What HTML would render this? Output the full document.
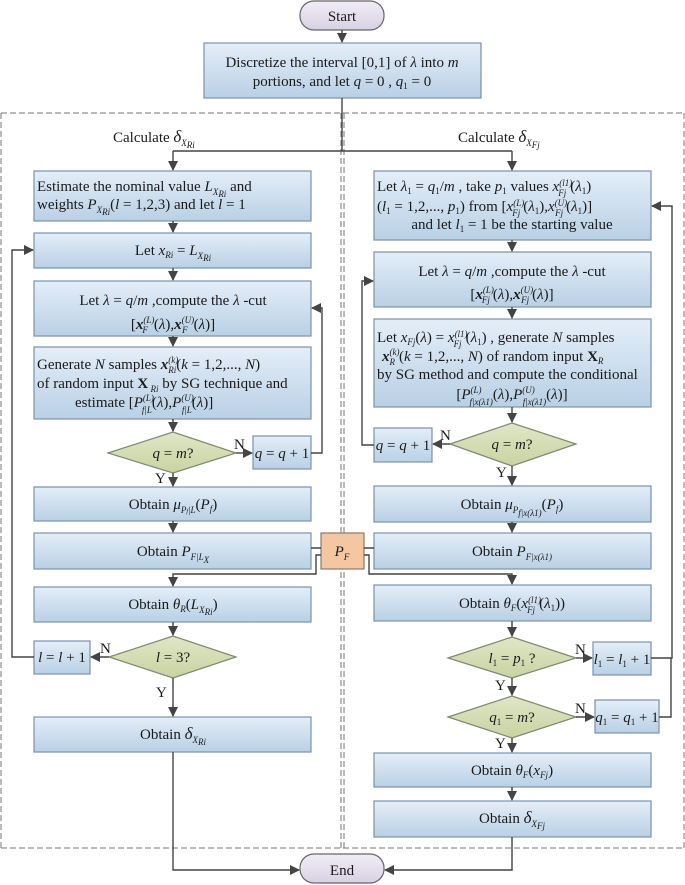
<!DOCTYPE html>
<html><head><meta charset="utf-8"><style>
html,body{margin:0;padding:0;background:#fff;}
svg{display:block;font-family:"Liberation Serif",serif;}
text{font-size:15px;fill:#1a1a1a;}
.m{font-style:italic;}
.s{font-size:9px;}
</style></head><body>
<svg width="685" height="885" viewBox="0 0 685 885" xmlns="http://www.w3.org/2000/svg">
<defs>
<linearGradient id="bx" x1="0" y1="0" x2="0" y2="1"><stop offset="0" stop-color="#e4eef8"/><stop offset="1" stop-color="#b9d0e5"/></linearGradient>
<linearGradient id="dm" x1="0" y1="0" x2="0" y2="1"><stop offset="0" stop-color="#e0e6c6"/><stop offset="1" stop-color="#c9d3a2"/></linearGradient>
<linearGradient id="te" x1="0" y1="0" x2="0" y2="1"><stop offset="0" stop-color="#f1eef6"/><stop offset="1" stop-color="#d8d0e4"/></linearGradient>
<marker id="a" markerWidth="10" markerHeight="10" refX="9" refY="5" orient="auto" markerUnits="userSpaceOnUse"><path d="M0,0 L10,5 L0,10 z" fill="#444"/></marker>
</defs>
<g fill="none" stroke="#777" stroke-dasharray="6,3" stroke-width="1">
<path d="M1,113 H684 M1,113 V848 M684,113 V848 M1,848 H684 M341,113 V848 M344,113 V848"/>
</g>
<g stroke="#7b93ab" stroke-width="1.2" fill="url(#bx)">
<rect x="204" y="43" width="277" height="55"/>
<rect x="34" y="171" width="277" height="50"/>
<rect x="34" y="233" width="277" height="35"/>
<rect x="34" y="281" width="277" height="55"/>
<rect x="34" y="347" width="277" height="72"/>
<rect x="253" y="436" width="58" height="33"/>
<rect x="34" y="487" width="277" height="34"/>
<rect x="34" y="533" width="277" height="36"/>
<rect x="34" y="587" width="277" height="35"/>
<rect x="34" y="641" width="56" height="33"/>
<rect x="34" y="717" width="277" height="35"/>
<rect x="374" y="171" width="277" height="69"/>
<rect x="374" y="252" width="277" height="55"/>
<rect x="374" y="319" width="277" height="88"/>
<rect x="374" y="428" width="58" height="34"/>
<rect x="374" y="486" width="277" height="36"/>
<rect x="374" y="533" width="277" height="36"/>
<rect x="374" y="585" width="277" height="36"/>
<rect x="593" y="642" width="58" height="33"/>
<rect x="595" y="700" width="64" height="33"/>
<rect x="374" y="753" width="277" height="34"/>
<rect x="374" y="801" width="277" height="36"/>
</g>
<rect x="321" y="533" width="43" height="36" fill="#f4c7a2" stroke="#8a7a6a" stroke-width="1.2"/>
<g stroke="#7d8a70" stroke-width="1.2" fill="url(#dm)">
<polygon points="108,453 173,432 236,453 173,473"/>
<polygon points="450,444 512,423 576,444 512,466"/>
<polygon points="109,657 173,636 236,657 173,678"/>
<polygon points="448,658 512,637 576,658 512,678"/>
<polygon points="448,717 512,696 576,717 512,738"/>
</g>
<g stroke="#666" stroke-width="1.2" fill="url(#te)">
<rect x="300" y="1" width="84" height="29" rx="14"/>
<rect x="300" y="854" width="84" height="29" rx="14"/>
</g>
<g fill="none" stroke="#444" stroke-width="1.4">
<path d="M342,30 V42" marker-end="url(#a)"/>
<path d="M342,98 V151 M173,151 H512"/>
<path d="M173,151 V170" marker-end="url(#a)"/>
<path d="M512,151 V170" marker-end="url(#a)"/>
<path d="M173,221 V232" marker-end="url(#a)"/>
<path d="M173,268 V280" marker-end="url(#a)"/>
<path d="M173,336 V346" marker-end="url(#a)"/>
<path d="M173,419 V431" marker-end="url(#a)"/>
<path d="M236,453 H252" marker-end="url(#a)"/>
<path d="M311,453 H322 V308 H312" marker-end="url(#a)"/>
<path d="M173,473 V486" marker-end="url(#a)"/>
<path d="M173,521 V532" marker-end="url(#a)"/>
<path d="M321,548 H311 M321,555 H316 V574 H173 V586" marker-end="url(#a)"/>
<path d="M364,548 H374 M364,555 H369 V574 H512 V584" marker-end="url(#a)"/>
<path d="M173,622 V635" marker-end="url(#a)"/>
<path d="M109,657 H91" marker-end="url(#a)"/>
<path d="M34,657 H12 V250 H33" marker-end="url(#a)"/>
<path d="M173,678 V716" marker-end="url(#a)"/>
<path d="M173,752 V870 H299" marker-end="url(#a)"/>
<path d="M512,240 V251" marker-end="url(#a)"/>
<path d="M512,307 V318" marker-end="url(#a)"/>
<path d="M512,407 V422" marker-end="url(#a)"/>
<path d="M450,444 H433" marker-end="url(#a)"/>
<path d="M374,445 H362 V281 H373" marker-end="url(#a)"/>
<path d="M512,466 V485" marker-end="url(#a)"/>
<path d="M512,522 V532" marker-end="url(#a)"/>
<path d="M512,621 V636" marker-end="url(#a)"/>
<path d="M576,658 H592" marker-end="url(#a)"/>
<path d="M651,658 H672 V206 H652" marker-end="url(#a)"/>
<path d="M659,717 H671 V658"/>
<path d="M512,678 V695" marker-end="url(#a)"/>
<path d="M576,717 H594" marker-end="url(#a)"/>
<path d="M512,738 V752" marker-end="url(#a)"/>
<path d="M512,787 V800" marker-end="url(#a)"/>
<path d="M512,837 V870 H385" marker-end="url(#a)"/>
</g>
<text x="342" y="21" text-anchor="middle">Start</text>
<text x="342" y="875" text-anchor="middle">End</text>
<text x="342" y="67" text-anchor="middle">Discretize the interval  [0,1]  of <tspan class="m">λ</tspan> into <tspan class="m">m</tspan></text>
<text x="342" y="86" text-anchor="middle">portions, and let  <tspan class="m">q</tspan> = 0 ,  <tspan class="m">q</tspan><tspan class="s" dy="3">1</tspan><tspan dy="-3"> = 0</tspan></text>
<text x="113" y="142">Calculate <tspan class="m" font-size="17">δ</tspan><tspan class="s m" dy="4">X</tspan><tspan class="s m" font-size="7" dy="2">Ri</tspan></text>
<text x="458" y="142">Calculate  <tspan class="m" font-size="17">δ</tspan><tspan class="s m" dy="4">X</tspan><tspan class="s m" font-size="7" dy="2">Fj</tspan></text>
<text x="37" y="191">Estimate the nominal value   <tspan class="m">L</tspan><tspan class="s m" dy="4">X</tspan><tspan class="s m" font-size="7" dy="2">Ri</tspan><tspan dy="-6">   and</tspan></text>
<text x="37" y="209">weights <tspan class="m">P</tspan><tspan class="s m" dy="4">X</tspan><tspan class="s m" font-size="7" dy="2">Ri</tspan><tspan dy="-6">(<tspan class="m">l</tspan> = 1,2,3) and let  <tspan class="m">l</tspan> = 1</tspan></text>
<text x="173" y="255" text-anchor="middle">Let   <tspan class="m">x</tspan><tspan class="s m" dy="3">Ri</tspan><tspan dy="-3"> = <tspan class="m">L</tspan></tspan><tspan class="s m" dy="4">X</tspan><tspan class="s m" font-size="7" dy="2">Ri</tspan></text>
<text x="173" y="305" text-anchor="middle">Let <tspan class="m">λ</tspan> = <tspan class="m">q</tspan>/<tspan class="m">m</tspan>  ,compute the <tspan class="m">λ</tspan> -cut</text>
<text x="173" y="329" text-anchor="middle">[<tspan class="m" font-weight="bold">x</tspan><tspan class="s m" dy="-6">(L)</tspan><tspan class="s m" dx="-12" dy="10">F</tspan><tspan dx="6" dy="-4">(<tspan class="m">λ</tspan>),</tspan><tspan class="m" font-weight="bold">x</tspan><tspan class="s m" dy="-6">(U)</tspan><tspan class="s m" dx="-12" dy="10">F</tspan><tspan dx="6" dy="-4">(<tspan class="m">λ</tspan>)]</tspan></text>
<text x="37" y="369">Generate <tspan class="m">N</tspan>  samples    <tspan class="m" font-weight="bold">x</tspan><tspan class="s m" dy="-6">(k)</tspan><tspan class="s m" dx="-10" dy="10">Ri</tspan><tspan dy="-4">(<tspan class="m">k</tspan> = 1,2,..., <tspan class="m">N</tspan>)</tspan></text>
<text x="37" y="388">of random input  <tspan font-weight="bold">X</tspan><tspan class="s m" dy="4"> Ri</tspan><tspan dy="-4"> by SG technique and</tspan></text>
<text x="75" y="407">estimate [<tspan class="m">P</tspan><tspan class="s m" dy="-6">(L)</tspan><tspan class="s m" dx="-12" dy="12">f|L</tspan><tspan dy="-6">(<tspan class="m">λ</tspan>),<tspan class="m">P</tspan></tspan><tspan class="s m" dy="-6">(U)</tspan><tspan class="s m" dx="-12" dy="12">f|L</tspan><tspan dy="-6">(<tspan class="m">λ</tspan>)]</tspan></text>
<text x="173" y="458" text-anchor="middle"><tspan class="m">q</tspan> = <tspan class="m">m</tspan>?</text>
<text x="282" y="458" text-anchor="middle"><tspan class="m">q</tspan> = <tspan class="m">q</tspan> + 1</text>
<text x="234" y="449" font-size="13">N</text>
<text x="155" y="483" font-size="13">Y</text>
<text x="173" y="509" text-anchor="middle">Obtain   <tspan class="m">μ</tspan><tspan class="s m" dy="4">P<tspan font-size="6">f</tspan>|L</tspan><tspan dy="-4">(<tspan class="m">P</tspan></tspan><tspan class="s m" dy="3">f</tspan><tspan dy="-3">)</tspan></text>
<text x="173" y="556" text-anchor="middle">Obtain   <tspan class="m">P</tspan><tspan class="s m" dy="4">F|L</tspan><tspan class="s m" font-size="7" dy="3">X</tspan></text>
<text x="342" y="556" text-anchor="middle" class="m" font-size="17">P<tspan class="s" dy="4">F</tspan></text>
<text x="173" y="609" text-anchor="middle">Obtain  <tspan class="m">θ</tspan><tspan class="s m" dy="3">R</tspan><tspan dy="-3">(<tspan class="m">L</tspan></tspan><tspan class="s m" dy="4">X</tspan><tspan class="s m" font-size="7" dy="2">Ri</tspan><tspan dy="-6">)</tspan></text>
<text x="173" y="662" text-anchor="middle"><tspan class="m">l</tspan> = 3?</text>
<text x="62" y="662" text-anchor="middle"><tspan class="m">l</tspan> = <tspan class="m">l</tspan> + 1</text>
<text x="100" y="653" font-size="13">N</text>
<text x="156" y="697" font-size="13">Y</text>
<text x="173" y="739" text-anchor="middle">Obtain  <tspan class="m" font-size="17">δ</tspan><tspan class="s m" dy="4">X</tspan><tspan class="s m" font-size="7" dy="2">Ri</tspan></text>
<text x="377" y="191">Let <tspan class="m">λ</tspan><tspan class="s" dy="3">1</tspan><tspan dy="-3"> = <tspan class="m">q</tspan></tspan><tspan class="s" dy="3">1</tspan><tspan dy="-3">/<tspan class="m">m</tspan> , take  <tspan class="m">p</tspan></tspan><tspan class="s" dy="3">1</tspan><tspan dy="-3">  values    <tspan class="m">x</tspan></tspan><tspan class="s m" dy="-5">(l1)</tspan><tspan class="s m" dx="-14" dy="10">Fj</tspan><tspan dx="4" dy="-5">(<tspan class="m">λ</tspan></tspan><tspan class="s" dy="3">1</tspan><tspan dy="-3">)</tspan></text>
<text x="377" y="211">(<tspan class="m">l</tspan><tspan class="s" dy="3">1</tspan><tspan dy="-3"> = 1,2,..., <tspan class="m">p</tspan></tspan><tspan class="s" dy="3">1</tspan><tspan dy="-3">)  from   [<tspan class="m">x</tspan></tspan><tspan class="s m" dy="-5">(L)</tspan><tspan class="s m" dx="-12" dy="10">Fj</tspan><tspan dx="3" dy="-5">(<tspan class="m">λ</tspan></tspan><tspan class="s" dy="3">1</tspan><tspan dy="-3">),<tspan class="m">x</tspan></tspan><tspan class="s m" dy="-5">(U)</tspan><tspan class="s m" dx="-12" dy="10">Fj</tspan><tspan dx="3" dy="-5">(<tspan class="m">λ</tspan></tspan><tspan class="s" dy="3">1</tspan><tspan dy="-3">)]</tspan></text>
<text x="512" y="229" text-anchor="middle">and let   <tspan class="m">l</tspan><tspan class="s" dy="3">1</tspan><tspan dy="-3"> = 1   be the starting value</tspan></text>
<text x="512" y="276" text-anchor="middle">Let <tspan class="m">λ</tspan> = <tspan class="m">q</tspan>/<tspan class="m">m</tspan>   ,compute the <tspan class="m">λ</tspan> -cut</text>
<text x="512" y="299" text-anchor="middle">[<tspan class="m" font-weight="bold">x</tspan><tspan class="s m" dy="-6">(L)</tspan><tspan class="s m" dx="-12" dy="10">Fj</tspan><tspan dx="3" dy="-4">(<tspan class="m">λ</tspan>),</tspan><tspan class="m" font-weight="bold">x</tspan><tspan class="s m" dy="-6">(U)</tspan><tspan class="s m" dx="-12" dy="10">Fj</tspan><tspan dx="3" dy="-4">(<tspan class="m">λ</tspan>)]</tspan></text>
<text x="377" y="342">Let <tspan class="m">x</tspan><tspan class="s m" dy="3">Fj</tspan><tspan dy="-3">(<tspan class="m">λ</tspan>) = <tspan class="m">x</tspan></tspan><tspan class="s m" dy="-5">(l1)</tspan><tspan class="s m" dx="-14" dy="10">Fj</tspan><tspan dx="4" dy="-5">(<tspan class="m">λ</tspan></tspan><tspan class="s" dy="3">1</tspan><tspan dy="-3">) , generate <tspan class="m">N</tspan>  samples</tspan></text>
<text x="382" y="361"><tspan class="m" font-weight="bold">x</tspan><tspan class="s m" dy="-6">(k)</tspan><tspan class="s m" dx="-10" dy="10">R</tspan><tspan dx="4" dy="-4">(<tspan class="m">k</tspan> = 1,2,..., <tspan class="m">N</tspan>)   of random input   <tspan font-weight="bold">X</tspan></tspan><tspan class="s m" dy="3">R</tspan></text>
<text x="377" y="379">by SG method and compute the conditional</text>
<text x="512" y="399" text-anchor="middle">[<tspan class="m">P</tspan><tspan class="s m" dy="-6">(L)</tspan><tspan class="s m" dx="-12" dy="12">f|x(λ1)</tspan><tspan dy="-6">(<tspan class="m">λ</tspan>),<tspan class="m">P</tspan></tspan><tspan class="s m" dy="-6">(U)</tspan><tspan class="s m" dx="-12" dy="12">f|x(λ1)</tspan><tspan dy="-6">(<tspan class="m">λ</tspan>)]</tspan></text>
<text x="512" y="449" text-anchor="middle"><tspan class="m">q</tspan> = <tspan class="m">m</tspan>?</text>
<text x="403" y="450" text-anchor="middle"><tspan class="m">q</tspan> = <tspan class="m">q</tspan> + 1</text>
<text x="440" y="440" font-size="13">N</text>
<text x="496" y="477" font-size="13">Y</text>
<text x="512" y="509" text-anchor="middle">Obtain   <tspan class="m">μ</tspan><tspan class="s m" dy="4">P</tspan><tspan class="s m" font-size="7" dy="3">f|x(λ1)</tspan><tspan dy="-7">(<tspan class="m">P</tspan></tspan><tspan class="s m" dy="3">f</tspan><tspan dy="-3">)</tspan></text>
<text x="512" y="556" text-anchor="middle">Obtain   <tspan class="m">P</tspan><tspan class="s m" dy="4">F|x(λ1)</tspan></text>
<text x="512" y="608" text-anchor="middle">Obtain  <tspan class="m">θ</tspan><tspan class="s m" dy="3">F</tspan><tspan dy="-3">(<tspan class="m">x</tspan></tspan><tspan class="s m" dy="-5">(l1)</tspan><tspan class="s m" dx="-14" dy="10">Fj</tspan><tspan dx="4" dy="-5">(<tspan class="m">λ</tspan></tspan><tspan class="s" dy="3">1</tspan><tspan dy="-3">))</tspan></text>
<text x="512" y="663" text-anchor="middle"><tspan class="m">l</tspan><tspan class="s" dy="3">1</tspan><tspan dy="-3"> = <tspan class="m">p</tspan></tspan><tspan class="s" dy="3">1</tspan><tspan dy="-3"> ?</tspan></text>
<text x="622" y="664" text-anchor="middle"><tspan class="m">l</tspan><tspan class="s" dy="3">1</tspan><tspan dy="-3"> = <tspan class="m">l</tspan></tspan><tspan class="s" dy="3">1</tspan><tspan dy="-3"> + 1</tspan></text>
<text x="575" y="654" font-size="13">N</text>
<text x="495" y="690" font-size="13">Y</text>
<text x="512" y="722" text-anchor="middle"><tspan class="m">q</tspan><tspan class="s" dy="3">1</tspan><tspan dy="-3"> = <tspan class="m">m</tspan>?</tspan></text>
<text x="627" y="722" text-anchor="middle"><tspan class="m">q</tspan><tspan class="s" dy="3">1</tspan><tspan dy="-3"> = <tspan class="m">q</tspan></tspan><tspan class="s" dy="3">1</tspan><tspan dy="-3"> + 1</tspan></text>
<text x="575" y="713" font-size="13">N</text>
<text x="495" y="748" font-size="13">Y</text>
<text x="512" y="775" text-anchor="middle">Obtain   <tspan class="m">θ</tspan><tspan class="s m" dy="3">F</tspan><tspan dy="-3">(<tspan class="m">x</tspan></tspan><tspan class="s m" dy="3">Fj</tspan><tspan dy="-3">)</tspan></text>
<text x="512" y="823" text-anchor="middle">Obtain    <tspan class="m" font-size="17">δ</tspan><tspan class="s m" dy="4">X</tspan><tspan class="s m" font-size="7" dy="2">Fj</tspan></text>
</svg>
</body></html>
